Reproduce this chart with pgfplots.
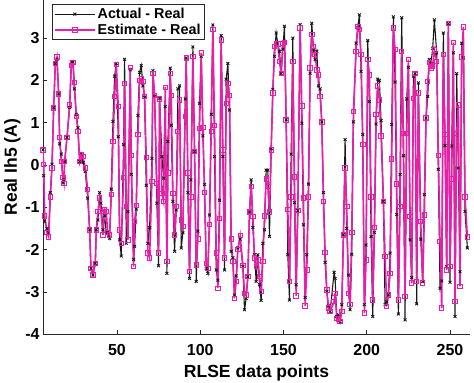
\documentclass[border=0pt]{standalone}
\usepackage{pgfplots}
\pgfplotsset{compat=1.18}
\usepackage{pgfplotstable}
\usepackage{fontspec}
\setmainfont{Liberation Sans}
\definecolor{mag}{RGB}{235,30,170}
\definecolor{blk}{RGB}{25,25,25}
\definecolor{axc}{RGB}{40,40,40}
\pgfplotstableread{
x act est
5.6 0.36 0.36
6 -0.25 0.02
6.6 -1.33 -1.2
8 -1.5 -1.6
9 -1.6 -1.7
10 -0.65 -0.75
11 0.02 -0.07
12 1.35 1.35
13 2.4 2.4
14 2.5 2.55
15 1.68 1.68
15.6 0.5 0.65
16.6 0.26 0.08
17.6 -0.41 -0.3
18.2 -0.35 -0.43
18.6 0.08 0.08
20 0.65 0.65
21.6 1.36 1.42
22.6 2.43 2.35
23.6 2.43 2.43
24.4 1.8 1.95
25.6 1.2 1.15
26.6 0.88 0.8
27.6 0.08 0.08
28.6 0.26 0.24
29.6 0.06 0.2
31 -0.15 -0.07
32.4 -0.78 -0.57
33.6 -1.53 -1.53
34.4 -2.44 -2.44
35.6 -2.6 -2.6
37 -2.32 -2.32
37.6 -1.53 -1.53
38.6 -1.3 -1.1
39.6 -0.65 -0.78
40.4 -0.9 -1.1
41.6 -1.53 -1.65
42.6 -1.2 -1.05
43.6 -1.6 -1.1
44.4 -1.6 -1.6
45.6 -1.73 -1.65
46.6 -0.57 -0.7
47.6 1.03 0.56
48.6 2.1 1.62
49.6 2.4 2.37
50.8 0.67 1.38
51.6 -1.77 -1.53
52.6 -2.15 -1.85
54 0.48 -0.3
54.6 2.5 1.93
55.6 -1.85 -0.98
56.6 -1.1 -1.77
58 2.25 2.3
58.6 -0.22 0.22
60 -2.23 -2.4
60.6 -1.92 -1.33
61.6 -1.04 -0.95
62.6 1.17 0.72
63.6 2.19 2.0
64.6 2.35 2.03
65.6 1.87 1.97
66.6 1.6 1.62
67.6 -0.48 0.18
68.6 -1.85 -2.08
69.6 -1.48 -2.2
71 0.16 -0.39
71.6 2.23 2.17
72.6 1.62 1.65
74 -0.9 -0.43
75 -2.38 -2.08
75.6 1.58 1.56
77 0.2 -0.67
78 -0.31 -0.86
79 1.38 1.84
80 -2.56 -2.28
80.6 0.56 -0.19
82 2.29 2.16
82.6 0.94 1.65
83.6 -0.86 -0.67
84.6 -2.04 -1.65
85.6 -1.06 -0.98
86.6 1.8 0.8
87.6 1.87 1.54
88.6 -1.96 -1.3
89.6 -1.6 -1.45
91 1.56 1.15
91.6 2.53 2.53
92.6 -0.65 -0.19
93.6 -2.68 -2.52
94.4 -0.35 -0.75
95.6 2.79 2.57
96.6 0.32 0.32
97.6 -2.75 -2.36
98.6 -1.56 -1.75
99.6 1.46 0.87
100.6 2.57 2.65
101.6 0.69 0.89
102.6 -0.46 -0.65
103.6 -2.44 -2.32
104.6 -2.56 -2.44
105.6 -1.18 -1.41
106.6 1.2 0.8
107.6 3.31 3.2
108.6 0.2 0.94
109.6 -2.48 -2.08
110.6 -2.72 -2.91
111.6 -0.83 -1.26
112.6 3.06 2.96
113.6 0.2 0.36
114.6 -2.48 -2.2
115.6 2.03 1.46
116.6 2.4 1.93
117.6 1.3 1.65
118.6 -2.04 -1.75
119.6 -2.19 -2.28
120.6 -3.07 -3.15
121.6 -2.62 -2.75
122.6 -1.96 -2.0
124 -1.75 -1.67
125.6 -2.4 -2.38
126.6 -3.42 -3.03
127.6 -3.15 -3.07
128.6 -2.64 -2.64
129.6 -1.11 -1.11
130.6 -0.35 -0.5
131.6 -1.48 -1.22
132.6 -2.12 -2.2
133.6 -2.75 -2.4
134.6 -2.12 -2.24
135.6 -2.83 -2.64
136.6 -3.2 -2.99
137.6 -1.85 -2.28
138.6 -1.53 -1.2
139.6 -0.12 -0.33
140.6 -0.12 -0.5
141.6 -1.69 -1.11
142.6 0.39 0.36
143.6 1.79 1.7
144.6 2.57 2.8
145.6 3.12 2.88
146.6 2.86 2.86
147.6 2.69 2.45
148.6 2.16 2.16
149.6 2.74 2.88
150.6 3.28 2.9
151.6 1.07 1.07
152.6 -2.12 -1.05
153.6 -3.19 -2.75
154.6 0.26 -0.75
155.6 3.0 2.45
156.6 -0.89 -0.28
157.6 -2.83 -3.09
158.6 -1.08 -1.08
160 3.32 3.24
161 0.99 1.4
162 -1.41 -0.78
163 -3.13 -3.33
164 -2.12 -2.48
165 -0.45 -0.75
166 2.17 2.29
167 3.35 3.08
168 2.72 2.8
169 2.49 2.61
170 2.69 2.25
171 1.87 2.13
172 1.8 1.62
173 1.02 1.02
174 -0.65 -0.86
175 -2.3 -2.06
176 -2.99 -2.95
177 -3.33 -3.38
178 -3.46 -3.46
180.4 -2.54 -3.23
181 -2.68 -3.03
182 -3.58 -3.62
183 -3.54 -3.64
184 -3.7 -3.7
185 -3.3 -3.46
186 -1.65 -1.65
187 0.6 -0.07
188 -1.5 -0.98
189 -2.6 -3.03
190 -3.42 -3.3
191 -2.11 -1.6
192 1.02 1.27
193.6 2.88 2.69
194.6 3.24 3.28
195.6 3.55 3.2
196.6 2.21 2.61
197.6 0.72 0.49
198.6 -3.3 -3.5
199.6 -1.89 -2.24
200.6 2.94 2.5
201.6 1.5 2.13
202.6 -1.69 -0.75
203.6 -3.58 -3.19
204.6 -1.59 -1.48
205.6 0.97 1.19
206.6 2.03 1.87
207.6 2.0 1.54
208.6 1.05 0.69
210 -0.86 -0.86
211 -3.3 -2.16
212 -3.23 -3.34
213 -3.07 -3.07
214 -2.08 -2.56
215 0.96 0.14
216 3.5 3.24
217 1.96 2.73
218 -1.17 -0.45
219 -3.52 -3.19
220 -0.22 -0.98
221 3.48 2.69
222 0.22 0.75
223 -3.66 -3.11
224 1.56 0.75
225 2.31 2.49
226 -1.77 -1.22
227 -2.66 -2.79
228 2.1 1.58
229 2.16 2.16
230 -3.28 -2.75
231 1.94 1.7
232.4 -1.75 -1.33
233.6 -2.75 -2.79
234.6 -0.7 -1.18
235.6 1.11 1.11
236.6 1.62 1.97
237.6 2.49 2.42
238.6 2.4 2.29
239.6 2.76 2.33
240.6 3.43 2.72
242 2.65 2.45
243 -0.1 0.22
244 -2.91 -1.81
245 -2.74 -3.38
246 3.12 2.62
247 0.46 0.72
248 -2.4 -2.48
249 3.34 3.34
250 -2.77 -2.4
251 0.45 -0.33
252 2.65 2.9
253 -3.58 -3.23
254 2.16 0.75
255 -0.07 1.42
256 -2.52 -2.87
257 2.88 2.55
258 2.53 3.26
259 -1.1 -0.75
260.4 -1.96 -1.7
}\datatable
\begin{document}
\begin{tikzpicture}
\useasboundingbox (0,0) rectangle (474bp,383bp);
\begin{axis}[
  at={(43bp,48.7bp)}, anchor=south west,
  scale only axis, width=427bp, height=334.3bp,
  xmin=5.6, xmax=262, ymin=-4, ymax=3.9,
  axis x line*=bottom, axis y line*=left,
  axis line style={axc, line width=0.6bp},
  xtick={50,100,150,200,250},
  ytick={-4,-3,-2,-1,0,1,2,3},
  tick align=inside, major tick length=4bp,
  tick style={axc, line width=0.6bp},
  /pgf/number format/assume math mode=true,
  tick label style={font=\fontsize{16}{16}\selectfont\bfseries, text=black},
  xticklabel style={yshift=-7bp},
  xlabel={RLSE data points},
  ylabel={Real Ih5 (A)},
  label style={font=\fontsize{17.6}{18}\selectfont\bfseries},
  xlabel style={yshift=-2bp},
  ylabel style={yshift=-2bp},
  legend style={at={(0.021,0.988)}, anchor=north west,
    font=\fontsize{14.4}{15}\selectfont\bfseries,
    draw=axc, line width=0.6bp, inner sep=1.8bp,
    row sep=0bp, cells={anchor=west}},
  legend image code/.code={\draw[mark repeat=2,mark phase=2,#1] plot coordinates {(0bp,0bp) (20bp,0bp) (40bp,0bp)};},
]
\addplot[blk, line width=1.1bp, mark=x, mark size=2bp, mark options={line width=0.9bp}] table[x=x, y=act] {\datatable};
\addlegendentry{Actual - Real}
\addplot[mag, line width=1.6bp, mark=square, mark size=2.2bp, mark options={line width=0.9bp}] table[x=x, y=est] {\datatable};
\addlegendentry{Estimate - Real}
\end{axis}
\end{tikzpicture}
\end{document}
